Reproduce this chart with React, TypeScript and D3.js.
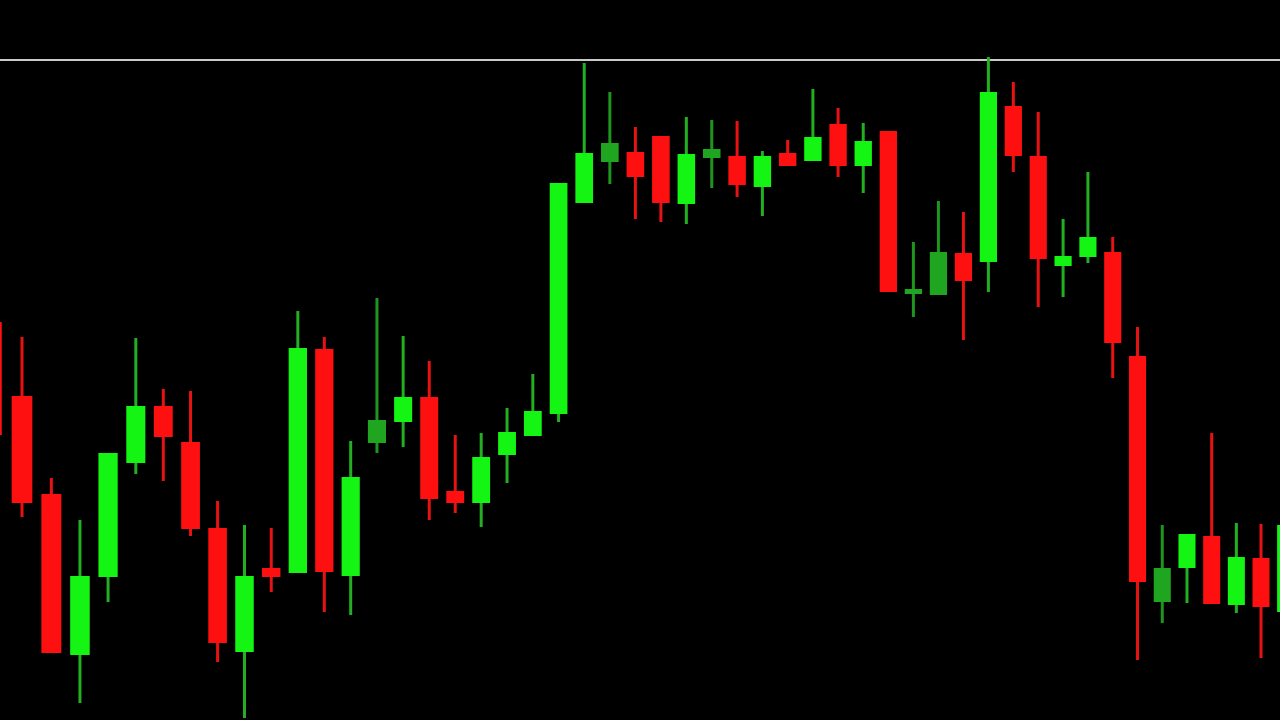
import React from "react";
import * as d3 from "d3";

// Candle data (price units, arbitrary points)
const opens = [398, 324, 226, 65, 143, 257, 314, 278, 192, 68, 152, 147, 371, 144, 277, 298, 323, 229, 217, 265, 284, 306, 517, 558, 568, 584, 516, 562, 564, 533, 567, 559, 596, 554, 589, 426, 425, 467, 458, 614, 564, 454, 463, 468, 364, 118, 152, 184, 115, 162, 108];
const highs = [398, 383, 242, 200, 267, 382, 331, 329, 219, 195, 192, 409, 383, 279, 422, 384, 359, 285, 287, 312, 346, 537, 657, 628, 593, 584, 603, 600, 599, 569, 580, 631, 612, 597, 589, 478, 519, 508, 663, 638, 608, 501, 548, 483, 393, 195, 186, 287, 197, 196, 200];
const lows = [285, 203, 67, 17, 118, 246, 239, 184, 58, 2, 128, 147, 108, 105, 267, 273, 200, 207, 193, 237, 284, 298, 517, 536, 501, 498, 496, 532, 523, 504, 554, 559, 543, 527, 428, 403, 425, 380, 428, 548, 413, 423, 457, 342, 60, 97, 117, 116, 107, 62, 106];
const closes = [285, 217, 67, 144, 267, 314, 283, 191, 77, 144, 143, 372, 148, 243, 300, 323, 221, 217, 263, 288, 309, 537, 567, 577, 543, 517, 566, 571, 535, 564, 554, 583, 554, 579, 428, 431, 468, 439, 628, 564, 461, 464, 483, 377, 138, 152, 186, 116, 163, 113, 195];
// candles that appear in a darker green tone
const dimCandles = [14, 23, 27, 35, 36, 45];
// horizontal price level
const levelPrice = 660;

const W = 1280;
const H = 720;

export default function App() {
  const x = d3.scalePow().exponent(0.95).domain([1, 49]).range([22, 1261]);
  const y = d3.scaleLinear().domain([0, 720]).range([H, 0]);
  const idx = d3.range(opens.length);

  return (
    <svg
      width={W}
      height={H}
      style={{ position: "fixed", left: 0, top: 0, background: "#000", display: "block" }}
    >
      <rect x={0} y={0} width={W} height={H} fill="#000" />
      <line x1={0} x2={W} y1={y(levelPrice)} y2={y(levelPrice)} stroke="#c9c9c9" strokeWidth={2} />
      {idx.map((i) => {
        const o = opens[i];
        const c = closes[i];
        const up = c >= o;
        const dim = dimCandles.includes(i);
        const cx = x(i);
        const bw = 0.69 * (x(i + 0.5) - x(i - 0.5));
        const bodyColor = up ? (dim ? "#1fa51f" : "#14f514") : "#ff1010";
        const wickColor = up ? (dim ? "#1e961e" : "#22b022") : "#e81212";
        const top = y(Math.max(o, c));
        const bot = y(Math.min(o, c));
        return (
          <g key={i}>
            <line x1={cx} x2={cx} y1={y(highs[i])} y2={y(lows[i])} stroke={wickColor} strokeWidth={3} />
            <rect x={cx - bw / 2} y={top} width={bw} height={Math.max(2, bot - top)} fill={bodyColor} />
          </g>
        );
      })}
    </svg>
  );
}
